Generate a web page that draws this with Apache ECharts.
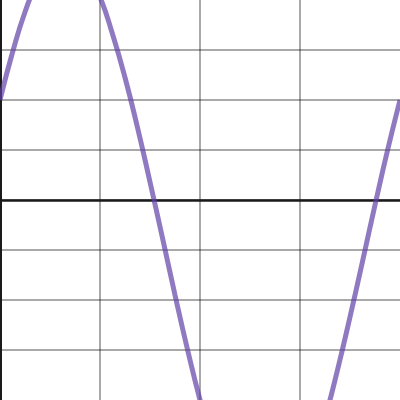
<!DOCTYPE html>
<html>
<head>
<meta charset="utf-8">
<script src="https://cdn.jsdelivr.net/npm/echarts@6/dist/echarts.min.js"></script>
<style>
  html, body { margin: 0; padding: 0; background: #fff; }
  #chart { width: 400px; height: 400px; }
</style>
</head>
<body>
<div id="chart"></div>
<script>
// x positions of the sampled points (one grid column = 1 unit)
const xValues = [
    0, 0.125, 0.25, 0.375, 0.5, 0.625, 0.75, 0.875,
    1, 1.125, 1.25, 1.375, 1.5, 1.625, 1.75, 1.875,
    2, 2.125, 2.25, 2.375, 2.5, 2.625, 2.75, 2.875,
    3, 3.125, 3.25, 3.375, 3.5, 3.625, 3.75, 3.875, 4
];
// curve height (one grid row = 1 unit)
const yValues = [
    2.00, 2.95, 3.76, 4.36, 4.74, 4.90, 4.84, 4.56,
    4.06, 3.32, 2.45, 1.45, 0.36, -0.76, -1.90, -2.99,
    -4.00, -4.90, -5.64, -6.21, -6.58, -6.74, -6.67, -6.39,
    -5.89, -5.21, -4.37, -3.40, -2.34, -1.23, -0.10, 0.99, 2.00
];
const xTicks = [0, 1, 2, 3, 4];
const yTicks = [-4, -3, -2, -1, 0, 1, 2, 3, 4];

const points = xValues.map((x, i) => [x, yValues[i]]);

const myChart = echarts.init(document.getElementById('chart'));

const gridLine = {
    show: true,
    showMinLine: false,
    showMaxLine: false,
    lineStyle: { color: 'rgba(0,0,0,0.45)', width: 1.5 }
};

let option = {
    animation: false,
    backgroundColor: '#fff',
    grid: { left: 0, right: 0, top: 0, bottom: 0 },
    xAxis: {
        type: 'value',
        min: xTicks[0],
        max: xTicks[xTicks.length - 1],
        interval: 1,
        axisLine: { show: true, onZero: true, lineStyle: { color: '#1a1a1a', width: 2.5 } },
        axisTick: { show: false },
        axisLabel: { show: false },
        splitLine: gridLine
    },
    yAxis: {
        type: 'value',
        min: yTicks[0],
        max: yTicks[yTicks.length - 1],
        interval: 1,
        axisLine: { show: true, onZero: true, lineStyle: { color: '#1a1a1a', width: 3 } },
        axisTick: { show: false },
        axisLabel: { show: false },
        splitLine: gridLine
    },
    series: [{
        type: 'line',
        data: points,
        smooth: true,
        showSymbol: false,
        clip: true,
        lineStyle: { color: '#6042a6', opacity: 0.7, width: 5 }
    }]
};

myChart.setOption(option);
</script>
</body>
</html>
